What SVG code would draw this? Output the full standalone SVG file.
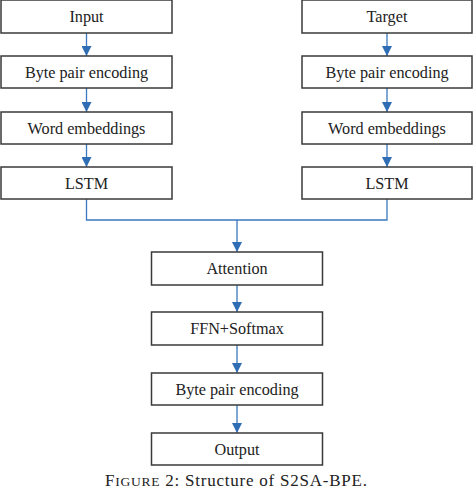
<svg xmlns="http://www.w3.org/2000/svg" width="474" height="494" viewBox="0 0 474 494">
<style>
.box{fill:#fff;stroke:#3a3a3a;stroke-width:1.5}
.lbl{font-family:"Liberation Serif","Times New Roman",serif;font-size:16.2px;fill:#222;text-anchor:middle}
.wire{fill:none;stroke:#3a78c0;stroke-width:1.3}
.cap{font-family:"Liberation Serif","Times New Roman",serif;font-size:17px;fill:#222}
</style>
<defs>
<marker id="ah" viewBox="0 0 10 10" refX="10" refY="5" markerWidth="10" markerHeight="10" markerUnits="userSpaceOnUse" orient="auto">
<path d="M0,0 L10,5 L0,10 Z" fill="#2f6db5"/>
</marker>
</defs>
<rect width="474" height="494" fill="#fff"/>
<g id="connectors">
<line class="wire" x1="86.5" y1="33" x2="86.5" y2="56" marker-end="url(#ah)"/>
<line class="wire" x1="86.5" y1="88" x2="86.5" y2="112" marker-end="url(#ah)"/>
<line class="wire" x1="86.5" y1="144" x2="86.5" y2="167" marker-end="url(#ah)"/>
<line class="wire" x1="387" y1="33" x2="387" y2="56" marker-end="url(#ah)"/>
<line class="wire" x1="387" y1="88" x2="387" y2="112" marker-end="url(#ah)"/>
<line class="wire" x1="387" y1="144" x2="387" y2="167" marker-end="url(#ah)"/>
<polyline class="wire" points="86.5,199 86.5,220 387,220 387,199"/>
<line class="wire" x1="237" y1="220" x2="237" y2="252" marker-end="url(#ah)"/>
<line class="wire" x1="237" y1="285" x2="237" y2="312" marker-end="url(#ah)"/>
<line class="wire" x1="237" y1="345" x2="237" y2="373" marker-end="url(#ah)"/>
<line class="wire" x1="237" y1="405" x2="237" y2="433" marker-end="url(#ah)"/>
</g>
<g id="input"><rect class="box" x="1" y="0" width="171" height="33"/><text class="lbl" x="86.5" y="21.5">Input</text></g>
<g id="bpe-left"><rect class="box" x="1" y="56" width="171" height="32"/><text class="lbl" x="86.5" y="77.5">Byte pair encoding</text></g>
<g id="emb-left"><rect class="box" x="1" y="112" width="171" height="32"/><text class="lbl" x="86.5" y="133.5">Word embeddings</text></g>
<g id="lstm-left"><rect class="box" x="1" y="167" width="171" height="32"/><text class="lbl" x="86.5" y="188.5">LSTM</text></g>
<g id="target"><rect class="box" x="302" y="0" width="170" height="33"/><text class="lbl" x="387" y="21.5">Target</text></g>
<g id="bpe-right"><rect class="box" x="302" y="56" width="170" height="32"/><text class="lbl" x="387" y="77.5">Byte pair encoding</text></g>
<g id="emb-right"><rect class="box" x="302" y="112" width="170" height="32"/><text class="lbl" x="387" y="133.5">Word embeddings</text></g>
<g id="lstm-right"><rect class="box" x="302" y="167" width="170" height="32"/><text class="lbl" x="387" y="188.5">LSTM</text></g>
<g id="attention"><rect class="box" x="151.5" y="252" width="171" height="33"/><text class="lbl" x="237" y="274">Attention</text></g>
<g id="ffn"><rect class="box" x="151.5" y="312" width="171" height="33"/><text class="lbl" x="237" y="334">FFN+Softmax</text></g>
<g id="bpe-out"><rect class="box" x="151.5" y="373" width="171" height="32"/><text class="lbl" x="237" y="394.5">Byte pair encoding</text></g>
<g id="output"><rect class="box" x="151.5" y="433" width="171" height="32"/><text class="lbl" x="237" y="454.5">Output</text></g>
<text class="cap" x="105" y="486" textLength="262" lengthAdjust="spacing">F<tspan font-size="13.5">IGURE</tspan> 2: Structure of S2SA-BPE.</text>
</svg>
